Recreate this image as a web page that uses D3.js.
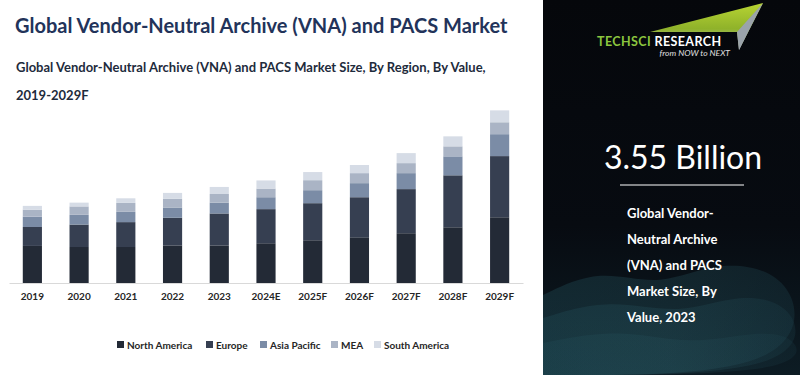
<!DOCTYPE html>
<html>
<head>
<meta charset="utf-8">
<script src="https://cdn.jsdelivr.net/npm/d3@7"></script>
<style>
  body { margin: 0; background: #fff; }
  svg { display: block; font-family: Lato, "Open Sans", sans-serif; }
</style>
</head>
<body>
<script>
// Data (USD billion)
const years = ["2019", "2020", "2021", "2022", "2023", "2024E", "2025F", "2026F", "2027F", "2028F", "2029F"];
const regions = ["North America", "Europe", "Asia Pacific", "MEA", "South America"];
const northAmerica = [1.37, 1.33, 1.33, 1.39, 1.39, 1.47, 1.58, 1.69, 1.84, 2.06, 2.43];
const europe       = [0.70, 0.83, 0.92, 1.02, 1.18, 1.26, 1.37, 1.48, 1.63, 1.92, 2.26];
const asiaPacific  = [0.38, 0.36, 0.38, 0.38, 0.40, 0.44, 0.48, 0.52, 0.59, 0.70, 0.81];
const mea          = [0.26, 0.31, 0.33, 0.32, 0.32, 0.32, 0.37, 0.37, 0.37, 0.37, 0.44];
const southAmerica = [0.14, 0.14, 0.17, 0.22, 0.26, 0.30, 0.30, 0.30, 0.37, 0.37, 0.44];
const colors = ["#232a36", "#363f51", "#7b8ca6", "#aab4c5", "#d6dce6"];

const width = 800, height = 375;

const table = years.map((y, i) => ({
    year: y,
    "North America": northAmerica[i],
    "Europe": europe[i],
    "Asia Pacific": asiaPacific[i],
    "MEA": mea[i],
    "South America": southAmerica[i]
}));

const series = d3.stack().keys(regions)(table);

const x = d3.scaleBand()
    .domain(years)
    .range([9, 523])
    .paddingInner(0.59)
    .paddingOuter(0.295);

const y = d3.scaleLinear()
    .domain([0, 6.8])
    .range([283, 99]);

const color = d3.scaleOrdinal().domain(regions).range(colors);

const svg = d3.select("body").append("svg")
    .attr("width", width)
    .attr("height", height)
    .attr("viewBox", [0, 0, width, height]);

// Titles
svg.append("text")
    .attr("x", 15).attr("y", 33)
    .attr("fill", "#22335a")
    .style("font-size", "20px").style("font-weight", "bold")
    .text("Global Vendor-Neutral Archive (VNA) and PACS Market");

svg.append("text")
    .attr("x", 16).attr("y", 72)
    .attr("fill", "#1e2b3c")
    .style("font-size", "13px").style("font-weight", "bold")
    .text("Global Vendor-Neutral Archive (VNA) and PACS Market Size, By Region, By Value,");

svg.append("text")
    .attr("x", 16).attr("y", 100)
    .attr("fill", "#1e2b3c")
    .style("font-size", "13px").style("font-weight", "bold")
    .text("2019-2029F");

// Stacked bars
svg.append("g")
    .selectAll("g")
    .data(series)
    .join("g")
    .attr("fill", d => color(d.key))
    .selectAll("rect")
    .data(d => d)
    .join("rect")
    .attr("x", d => x(d.data.year))
    .attr("y", d => y(d[1]))
    .attr("height", d => y(d[0]) - y(d[1]))
    .attr("width", x.bandwidth());

// X axis
svg.append("g")
    .attr("transform", `translate(0,${y(0)})`)
    .call(d3.axisBottom(x).tickSize(0).tickSizeOuter(0).tickPadding(10))
    .call(g => g.select(".domain").attr("stroke", "#d9d9d9"))
    .call(g => g.selectAll("text")
        .attr("fill", "#262626")
        .style("font-size", "10px")
        .style("font-weight", "bold")
        .style("font-family", "Lato, sans-serif"));

// Legend
const legendX = [117, 206, 260, 331, 374];
const legend = svg.append("g")
    .selectAll("g")
    .data(regions)
    .join("g")
    .attr("transform", (d, i) => `translate(${legendX[i]},345)`);

legend.append("rect")
    .attr("x", 0).attr("y", -4)
    .attr("width", 7).attr("height", 7)
    .attr("fill", d => color(d));

legend.append("text")
    .attr("x", 10).attr("y", 3.5)
    .attr("fill", "#262626")
    .style("font-size", "10px")
    .style("font-weight", "bold")
    .text(d => d);

// Right panel
const defs = svg.append("defs");
const bg = defs.append("linearGradient").attr("id", "bg")
    .attr("x1", 0).attr("y1", 0).attr("x2", 0).attr("y2", 1);
bg.append("stop").attr("offset", "0%").attr("stop-color", "#05070b");
bg.append("stop").attr("offset", "60%").attr("stop-color", "#070b11");
bg.append("stop").attr("offset", "100%").attr("stop-color", "#0d1c24");

const wave = defs.append("linearGradient").attr("id", "wave")
    .attr("x1", 0).attr("y1", 0).attr("x2", 1).attr("y2", 0);
wave.append("stop").attr("offset", "0%").attr("stop-color", "#245560").attr("stop-opacity", 0.6);
wave.append("stop").attr("offset", "50%").attr("stop-color", "#2f6570").attr("stop-opacity", 0.45);
wave.append("stop").attr("offset", "100%").attr("stop-color", "#1f4550").attr("stop-opacity", 0.55);

const panel = svg.append("g");
panel.append("rect")
    .attr("x", 543).attr("y", 0)
    .attr("width", 257).attr("height", height)
    .attr("fill", "url(#bg)");

// Decorative wave bands at the panel bottom
const waveLine = d3.line().curve(d3.curveBasis);
const waves = [
    [[543, 295], [600, 268], [660, 288], [720, 258], [800, 276], [800, 375], [543, 375]],
    [[543, 318], [610, 298], [680, 316], [740, 292], [800, 306], [800, 375], [543, 375]],
    [[543, 343], [620, 328], [690, 346], [760, 330], [800, 338], [800, 375], [543, 375]]
];
panel.selectAll("path.wave")
    .data(waves)
    .join("path")
    .attr("class", "wave")
    .attr("d", d => waveLine(d))
    .attr("fill", "url(#wave)")
    .attr("opacity", (d, i) => 0.55 - i * 0.1);

// Logo
const tri = defs.append("linearGradient").attr("id", "tri")
    .attr("x1", 0).attr("y1", 0).attr("x2", 0).attr("y2", 1);
tri.append("stop").attr("offset", "0%").attr("stop-color", "#b8d433");
tri.append("stop").attr("offset", "55%").attr("stop-color", "#8fb22a");
tri.append("stop").attr("offset", "100%").attr("stop-color", "#c8ccd0");

panel.append("path")
    .attr("d", "M763,3 L650,32 L737,32 L739,50 Z")
    .attr("fill", "url(#tri)");
panel.append("path")
    .attr("d", "M763,3 L737,32 L739,50 Z")
    .attr("fill", "#9aa3aa");

panel.append("text")
    .attr("x", 597).attr("y", 46)
    .style("font-size", "12.5px").style("font-weight", "bold")
    .style("letter-spacing", "0.4px")
    .call(t => t.append("tspan").attr("fill", "#8cc63f").text("TECHSCI "))
    .call(t => t.append("tspan").attr("fill", "#ffffff").text("RESEARCH"));

panel.append("text")
    .attr("x", 730).attr("y", 56)
    .attr("text-anchor", "end")
    .attr("fill", "#e0e0e0")
    .style("font-size", "8.5px").style("font-style", "italic")
    .text("from NOW to NEXT");

// Headline value
panel.append("text")
    .attr("x", 683).attr("y", 169)
    .attr("text-anchor", "middle")
    .attr("fill", "#ffffff")
    .style("font-size", "32px")
    .text("3.55 Billion");

panel.append("line")
    .attr("x1", 620).attr("x2", 744)
    .attr("y1", 185).attr("y2", 185)
    .attr("stroke", "#ffffff").attr("stroke-width", 1);

const blurb = ["Global Vendor-", "Neutral Archive", "(VNA) and PACS", "Market Size, By", "Value, 2023"];
panel.selectAll("text.blurb")
    .data(blurb)
    .join("text")
    .attr("class", "blurb")
    .attr("x", 627)
    .attr("y", (d, i) => 218 + i * 26)
    .attr("fill", "#ffffff")
    .style("font-size", "13px").style("font-weight", "bold")
    .text(d => d);
</script>
</body>
</html>
